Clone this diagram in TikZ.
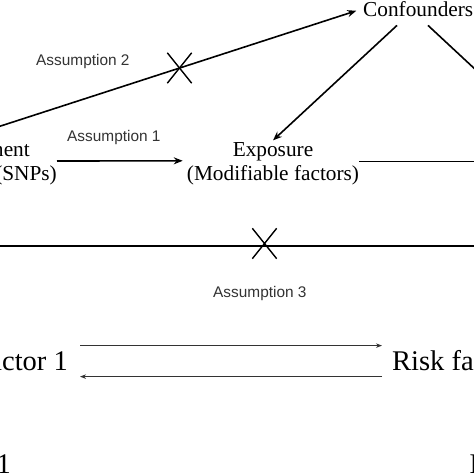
\documentclass[tikz,border=0pt]{standalone}
\usepackage{fontspec}
\setmainfont{Liberation Serif}
\newfontfamily\labelfont{Liberation Sans}
\usetikzlibrary{arrows.meta,shapes.misc,calc}
\begin{document}
\begin{tikzpicture}[x=1pt,y=-1pt,
  txt/.style={inner sep=0pt, font=\fontsize{21.3}{24}\selectfont},
  big/.style={inner sep=0pt, font=\fontsize{28.5}{30}\selectfont},
  lab/.style={inner sep=0pt, font=\labelfont\fontsize{15.4}{17}\selectfont, text=black!80},
  main/.style={line width=1.6pt, -{Stealth[length=9pt,width=7pt]}},
  plainline/.style={line width=1.6pt},
  thinarrow/.style={line width=0.9pt, draw=black!80, -{Stealth[length=6pt,width=4.5pt]}},
  xmark/.style={cross out, draw, line width=1.4pt, minimum width=23pt, minimum height=29pt, inner sep=0pt}]
\useasboundingbox (0,0) rectangle (474,474);
\clip (0,0) rectangle (474,474);
\fill[white] (0,0) rectangle (474,474);

% top part
\node[txt, anchor=base west] (conf) at (363,16) {Confounders};
\node[txt, anchor=base] (expo) at (273,156) {Exposure};
\node[txt, anchor=base] (mod) at (273,180) {(Modifiable factors)};
\node[txt, anchor=base east] (inst) at (30,156) {Instrument};
\node[txt, anchor=base east] (snps) at (57,180) {(SNPs)};
\coordinate (g2) at (-20,132.7);
\coordinate (outc) at (520,111);

\node[lab, anchor=base west] (a2) at (36,65.5) {Assumption 2};
\node[lab, anchor=base west] (a1) at (67,141.5) {Assumption 1};
\node[lab, anchor=base west] (a3) at (213,297) {Assumption 3};

\draw[main, shorten >=7pt] (g2) -- (conf.west);
\node[xmark] (x2) at (179.5,68) {};
\draw[main] ($(snps.north east)+(0,-4)$) -- ($(mod.north west)+(-4,-4)$);
\draw[main] ($(conf.south west)+(34,9)$) -- ($(expo.north)+(0,-1.5)$);
\draw[plainline] ($(conf.south west)+(65,9)$) -- (outc);
\draw[plainline] ($(mod.north east)+(0,-3.5)$) -- ++(150,0);

\coordinate (l3a) at (-10,246);
\coordinate (l3b) at (490,246);
\draw[plainline] (l3a) -- (l3b);
\node[xmark] (x3) at (264.5,243.5) {};

% bottom part
\node[big, anchor=base east] (rf1) at (68,370) {Risk factor 1};
\node[big, anchor=base west] (rf2) at (392,370) {Risk factor 2};
\draw[thinarrow] ($(rf1.east)+(12,-14.5)$) -- ($(rf2.west)+(-10,-14.5)$);
\draw[thinarrow] ($(rf2.west)+(-10,16.5)$) -- ($(rf1.east)+(12,16.5)$);

\node[big, anchor=base east] (rf1b) at (11,473) {Risk factor 1};
\node[big, anchor=base west] (dis) at (469.5,473) {Disease};
\end{tikzpicture}
\end{document}
